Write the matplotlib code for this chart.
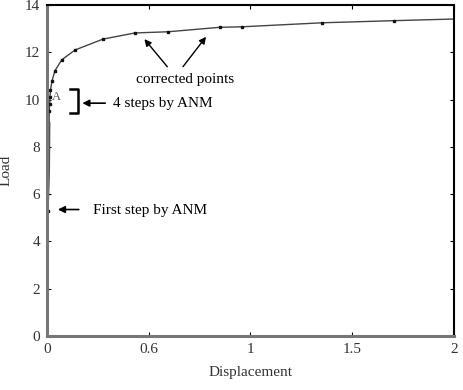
import matplotlib.pyplot as plt

# load-displacement curve
disp = [0.0, 0.006, 0.011, 0.013, 0.015, 0.017, 0.025, 0.039, 0.072, 0.138,
        0.275, 0.432, 0.595, 0.850, 0.958, 1.351, 1.705, 2.0]
load = [0.0, 5.3, 9.5, 9.8, 10.1, 10.4, 10.8, 11.22, 11.68, 12.10,
        12.56, 12.82, 12.87, 13.06, 13.08, 13.25, 13.34, 13.41]

xticks = [0, 0.5, 1, 1.5, 2]
xticklabels = ['0', '0.6', '1', '1.5', '2']
yticks = [0, 2, 4, 6, 8, 10, 12, 14]

plt.rcParams['font.family'] = ['Liberation Serif', 'DejaVu Serif']

fig = plt.figure(figsize=(4.63, 3.9), dpi=100)
ax = fig.add_axes([0.1015, 0.1385, 0.879, 0.8485])

ax.plot(disp, load, color='#444444', lw=1.0)
ax.plot(disp[1:-1], load[1:-1], 's', color='#111111', ms=2.0, ls='none')
ax.plot([0.002, 0.004, 0.006, 0.008, 0.010], [5.3, 6.0, 6.5, 7.0, 9.0], color='#555555', lw=2.0)

ax.set_xlim(0, 2)
ax.set_ylim(0, 14)
ax.set_xticks(xticks)
ax.set_xticklabels(xticklabels)
ax.set_yticks(yticks)
ax.tick_params(direction='in', top=True, right=True, length=3, labelsize=11,
               labelcolor='#333333', pad=5)
for side in ['left', 'bottom']:
    ax.spines[side].set_color('#777777')
    ax.spines[side].set_linewidth(2.2)
for side in ['top', 'right']:
    ax.spines[side].set_linewidth(1.5)

ax.set_xlabel('Displacement', fontsize=11, color='#333333', labelpad=7)
ax.set_ylabel('Load', fontsize=11, color='#333333', labelpad=9)

# annotations
ax.text(0.022, 10.0, 'A', fontsize=9, color='#555555')
ax.plot([0.115, 0.15, 0.15, 0.115], [10.45, 10.45, 9.45, 9.45], color='black', lw=1.8)
ax.annotate('', xy=(0.16, 9.85), xytext=(0.30, 9.85),
            arrowprops=dict(arrowstyle='-|>', color='black', lw=1.2))
ax.text(0.325, 9.85, '4 steps by ANM', fontsize=11, va='center')
ax.annotate('', xy=(0.04, 5.35), xytext=(0.17, 5.35),
            arrowprops=dict(arrowstyle='-|>', color='black', lw=1.2))
ax.text(0.225, 5.3, 'First step by ANM', fontsize=11, va='center')
ax.text(0.68, 10.85, 'corrected points', fontsize=11, ha='center', va='center')
ax.annotate('', xy=(0.47, 12.65), xytext=(0.60, 11.3),
            arrowprops=dict(arrowstyle='-|>', color='black', lw=1.0))
ax.annotate('', xy=(0.79, 12.75), xytext=(0.66, 11.3),
            arrowprops=dict(arrowstyle='-|>', color='black', lw=1.0))

fig.savefig('out.png', dpi=100)
